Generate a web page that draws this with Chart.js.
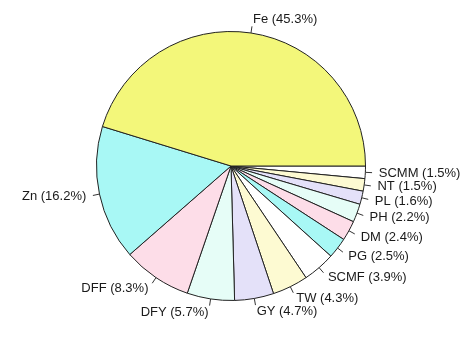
<!DOCTYPE html>
<html>
<head>
<meta charset="utf-8">
<script src="https://cdn.jsdelivr.net/npm/chart.js@4/dist/chart.umd.min.js"></script>
<style>
html,body{margin:0;padding:0;background:#fff;}
canvas{display:block;}
</style>
</head>
<body>
<canvas id="c" width="474" height="353"></canvas>
<script>
// Data in original (counter-clockwise, from 3 o'clock) order
const categories = ["Fe","Zn","DFF","DFY","GY","TW","SCMF","PG","DM","PH","PL","NT","SCMM"];
const values = [45.3,16.2,8.3,5.7,4.7,4.3,3.9,2.5,2.4,2.2,1.6,1.5,1.5];
const colors = ["#f3f77a","#a8f8f5","#fddde8","#e6fdf7","#e4e1f9","#fdfad2","#ffffff",
                "#a8f8f5","#fddde8","#e6fdf7","#e4e1f9","#fdfad2","#ffffff"];

// Chart.js draws clockwise, so reverse to emulate the counter-clockwise layout
const labelsCW = categories.slice().reverse();
const valuesCW = values.slice().reverse();
const colorsCW = colors.slice().reverse();

const outsideLabels = {
  id: 'outsideLabels',
  afterDatasetsDraw(chart) {
    const ctx = chart.ctx;
    const meta = chart.getDatasetMeta(0);
    ctx.save();
    ctx.font = '13px "Liberation Sans", Arial, sans-serif';
    ctx.fillStyle = '#1a1a1a';
    ctx.strokeStyle = '#333';
    ctx.lineWidth = 1;
    ctx.textBaseline = 'middle';
    meta.data.forEach((arc, i) => {
      const {x, y, startAngle, endAngle, outerRadius} = arc.getProps(['x','y','startAngle','endAngle','outerRadius'], true);
      const a = (startAngle + endAngle) / 2;
      const c = Math.cos(a), s = Math.sin(a);
      ctx.beginPath();
      ctx.moveTo(x + outerRadius * c, y + outerRadius * s);
      ctx.lineTo(x + outerRadius * 1.05 * c, y + outerRadius * 1.05 * s);
      ctx.stroke();
      ctx.textAlign = c < 0 ? 'right' : 'left';
      const txt = labelsCW[i] + ' (' + valuesCW[i].toFixed(1) + '%)';
      ctx.fillText(txt, x + outerRadius * 1.1 * c, y + outerRadius * 1.1 * s);
    });
    ctx.restore();
  }
};

new Chart(document.getElementById('c'), {
  type: 'pie',
  data: {
    labels: labelsCW,
    datasets: [{
      data: valuesCW,
      backgroundColor: colorsCW,
      borderColor: '#222',
      borderWidth: 1
    }]
  },
  options: {
    responsive: false,
    animation: false,
    rotation: 90,
    layout: { padding: { left: 96, right: 108, top: 31, bottom: 52 } },
    plugins: { legend: { display: false }, tooltip: { enabled: false } }
  },
  plugins: [outsideLabels]
});
</script>
</body>
</html>
